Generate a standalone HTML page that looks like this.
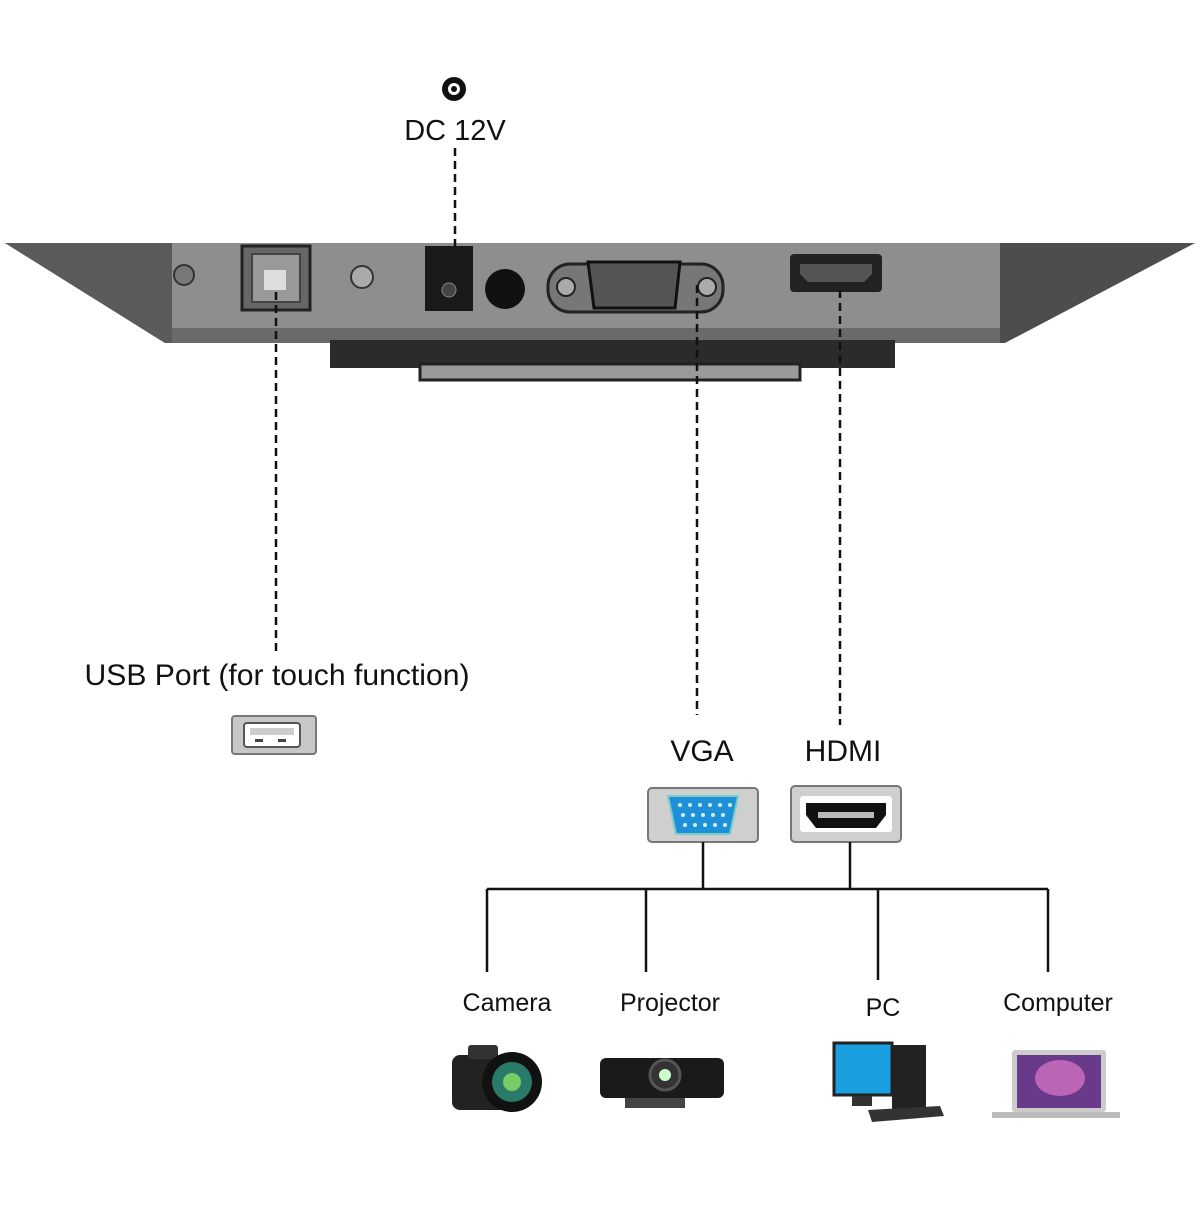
<!DOCTYPE html>
<html><head><meta charset="utf-8"><style>
html,body{margin:0;padding:0;background:#fff;}
svg text{font-family:"Liberation Sans",sans-serif;fill:#111;}
</style></head><body>
<svg width="1200" height="1200" viewBox="0 0 1200 1200" xmlns="http://www.w3.org/2000/svg">
<circle cx="454" cy="89" r="12" fill="#111"/>
<circle cx="454" cy="89" r="6" fill="#fff"/>
<circle cx="454" cy="89" r="3" fill="#111"/>
<text x="455" y="140" font-size="29" text-anchor="middle">DC 12V</text>

<polygon points="5,243 1195,243 1005,343 165,343" fill="#4d4d4d"/>
<polygon points="5,243 172,243 172,343 165,343" fill="#5a5a5a"/>
<rect x="172" y="243" width="828" height="88" fill="#8e8e8e"/>
<rect x="172" y="328" width="828" height="15" fill="#6a6a6a"/>
<rect x="330" y="340" width="565" height="28" fill="#2b2b2b"/>
<rect x="420" y="364" width="380" height="16" fill="#9a9a9a" stroke="#222" stroke-width="3"/>
<circle cx="184" cy="275" r="10" fill="#777" stroke="#333" stroke-width="2"/>
<circle cx="362" cy="277" r="11" fill="#aaa" stroke="#333" stroke-width="2"/>
<rect x="242" y="246" width="68" height="64" fill="#666" stroke="#222" stroke-width="3"/>
<rect x="252" y="254" width="48" height="48" fill="#999" stroke="#444" stroke-width="2"/>
<rect x="264" y="270" width="22" height="20" fill="#ddd"/>
<rect x="425" y="246" width="48" height="65" fill="#1a1a1a"/>
<circle cx="449" cy="290" r="7" fill="#444" stroke="#888" stroke-width="1"/>
<circle cx="505" cy="289" r="20" fill="#111"/>
<rect x="548" y="264" width="175" height="48" rx="22" fill="#777" stroke="#222" stroke-width="3"/>
<circle cx="566" cy="287" r="9" fill="#aaa" stroke="#222" stroke-width="2"/>
<circle cx="707" cy="287" r="9" fill="#aaa" stroke="#222" stroke-width="2"/>
<path d="M588,262 L680,262 L675,308 L594,308 Z" fill="#555" stroke="#111" stroke-width="3"/>
<rect x="790" y="254" width="92" height="38" rx="4" fill="#222"/>
<path d="M800,264 L872,264 L872,274 L864,282 L808,282 L800,274 Z" fill="#555"/>

<g stroke="#111" stroke-width="2.5" stroke-dasharray="8,5" fill="none">
<line x1="455" y1="148" x2="455" y2="252"/>
<line x1="276" y1="292" x2="276" y2="652"/>
<line x1="697" y1="285" x2="697" y2="715"/>
<line x1="840" y1="290" x2="840" y2="725"/>
</g>

<text x="277" y="685" font-size="30" text-anchor="middle" textLength="385" lengthAdjust="spacingAndGlyphs">USB Port (for touch function)</text>
<rect x="232" y="716" width="84" height="38" rx="3" fill="#c8c8c8" stroke="#777" stroke-width="2"/>
<rect x="244" y="723" width="56" height="24" rx="3" fill="#fff" stroke="#555" stroke-width="2"/>
<rect x="250" y="728" width="44" height="7" fill="#ccc"/>
<rect x="255" y="739" width="8" height="3" fill="#444"/><rect x="278" y="739" width="8" height="3" fill="#444"/>

<text x="702" y="761" font-size="30" text-anchor="middle">VGA</text>
<text x="843" y="761" font-size="30" text-anchor="middle">HDMI</text>
<rect x="648" y="788" width="110" height="54" rx="4" fill="#cfcfcf" stroke="#777" stroke-width="2"/>
<path d="M668,796 L738,796 L730,834 L676,834 Z" fill="#1e90d8" stroke="#7cc" stroke-width="2"/>
<g fill="#cfefff">
<circle cx="680" cy="805" r="2"/><circle cx="690" cy="805" r="2"/><circle cx="700" cy="805" r="2"/><circle cx="710" cy="805" r="2"/><circle cx="720" cy="805" r="2"/><circle cx="730" cy="805" r="2"/>
<circle cx="683" cy="815" r="2"/><circle cx="693" cy="815" r="2"/><circle cx="703" cy="815" r="2"/><circle cx="713" cy="815" r="2"/><circle cx="723" cy="815" r="2"/>
<circle cx="685" cy="825" r="2"/><circle cx="695" cy="825" r="2"/><circle cx="705" cy="825" r="2"/><circle cx="715" cy="825" r="2"/><circle cx="725" cy="825" r="2"/>
</g>
<rect x="791" y="786" width="110" height="56" rx="4" fill="#cfcfcf" stroke="#777" stroke-width="2"/>
<rect x="800" y="796" width="92" height="36" rx="3" fill="#fff"/>
<path d="M806,803 L886,803 L886,815 L876,828 L816,828 L806,815 Z" fill="#111"/>
<rect x="818" y="812" width="56" height="6" fill="#bbb"/>

<g stroke="#111" stroke-width="2.5" fill="none">
<line x1="703" y1="842" x2="703" y2="889"/>
<line x1="850" y1="842" x2="850" y2="889"/>
<line x1="487" y1="889" x2="1048" y2="889"/>
<line x1="487" y1="889" x2="487" y2="972"/>
<line x1="646" y1="889" x2="646" y2="972"/>
<line x1="878" y1="889" x2="878" y2="980"/>
<line x1="1048" y1="889" x2="1048" y2="972"/>
</g>
<text x="507" y="1011" font-size="25" text-anchor="middle">Camera</text>
<text x="670" y="1011" font-size="25" text-anchor="middle">Projector</text>
<text x="883" y="1016" font-size="25" text-anchor="middle">PC</text>
<text x="1058" y="1011" font-size="25" text-anchor="middle">Computer</text>

<rect x="452" y="1055" width="70" height="55" rx="8" fill="#222"/>
<rect x="468" y="1045" width="30" height="14" rx="3" fill="#333"/>
<circle cx="512" cy="1082" r="30" fill="#111"/>
<circle cx="512" cy="1082" r="20" fill="#2a7a6a"/>
<circle cx="512" cy="1082" r="9" fill="#7c6"/>
<rect x="600" y="1058" width="124" height="40" rx="6" fill="#1a1a1a"/>
<circle cx="665" cy="1075" r="15" fill="#333" stroke="#555" stroke-width="3"/>
<circle cx="665" cy="1075" r="6" fill="#cfc"/>
<rect x="625" y="1098" width="60" height="10" fill="#444"/>
<rect x="834" y="1043" width="58" height="52" fill="#1a9fe0" stroke="#222" stroke-width="3"/>
<rect x="892" y="1045" width="34" height="70" fill="#222"/>
<rect x="852" y="1096" width="20" height="10" fill="#333"/>
<polygon points="868,1110 940,1106 944,1116 872,1122" fill="#333"/>
<rect x="1012" y="1050" width="94" height="62" rx="3" fill="#ccc"/>
<rect x="1017" y="1055" width="84" height="53" fill="#6a3a8a"/>
<ellipse cx="1060" cy="1078" rx="25" ry="18" fill="#d070c0" opacity=".8"/>
<rect x="992" y="1112" width="128" height="6" fill="#bbb"/>
</svg>
</body></html>
